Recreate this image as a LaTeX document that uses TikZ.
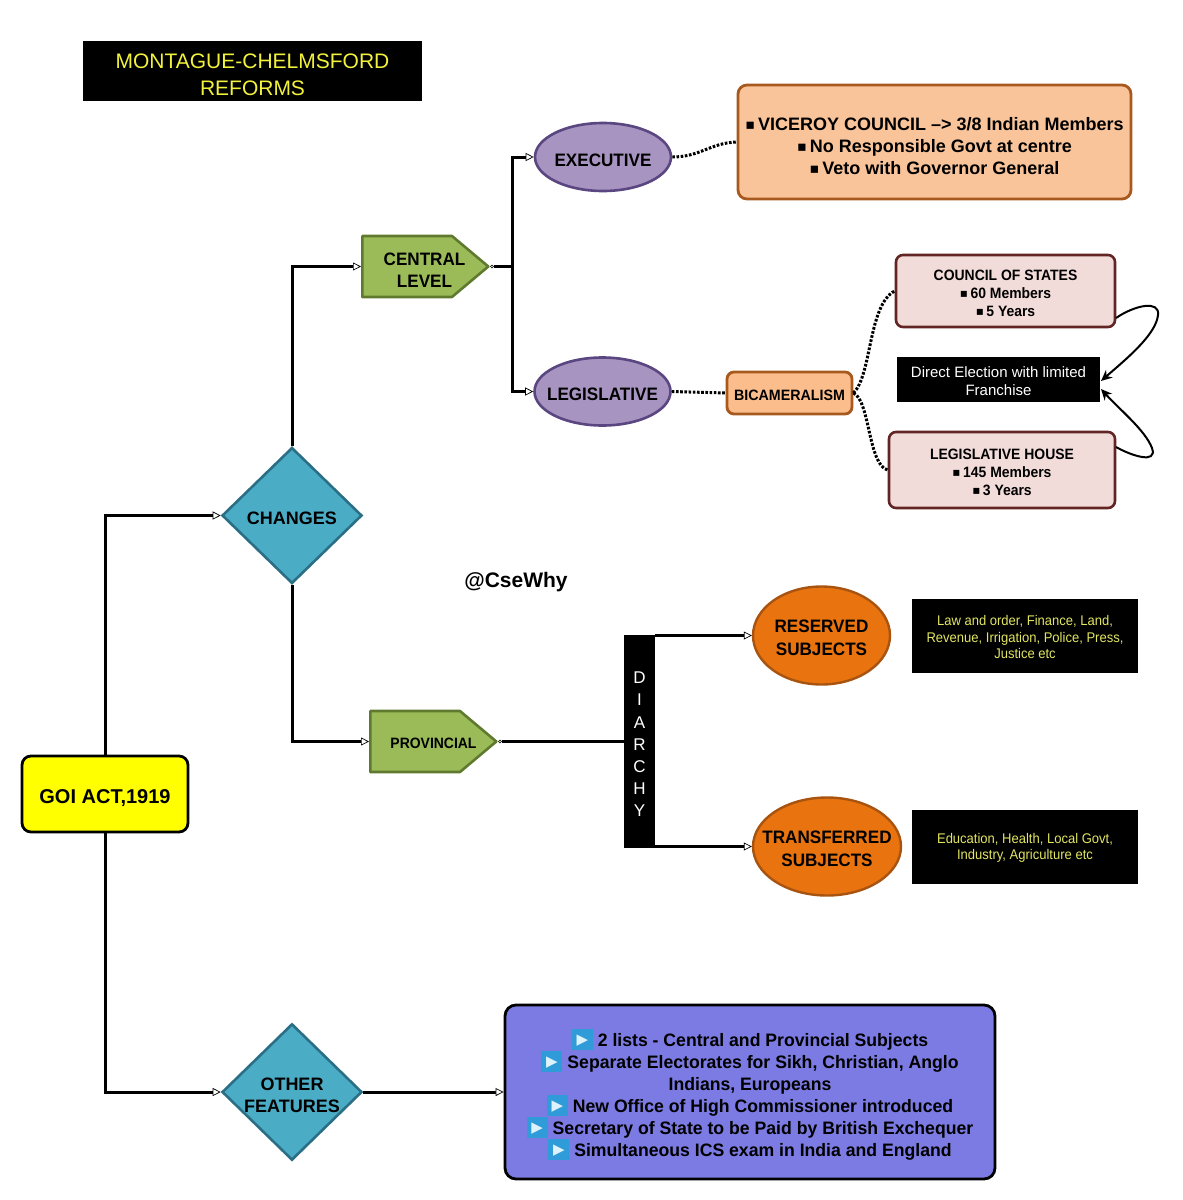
\documentclass[tikz,border=0pt]{standalone}
\usepackage{graphicx}
\usepackage{fontspec}
\setmainfont{Liberation Sans}
\newfontfamily\symfont{DejaVu Sans}
\newfontfamily\capsfont[FakeStretch=0.95]{Liberation Sans}
\newfontfamily\tightfont[FakeStretch=0.93]{Liberation Sans}
\newfontfamily\listfont[FakeStretch=0.98]{Liberation Sans}
\usetikzlibrary{shapes.geometric}
\usetikzlibrary{shapes.symbols}
\usetikzlibrary{arrows.meta}
\definecolor{titleyellow}{HTML}{F2F23C}
\definecolor{paleyellow}{HTML}{E2E662}
\definecolor{goiyellow}{HTML}{FFFF00}
\definecolor{purplefill}{HTML}{A894C0}
\definecolor{purpleline}{HTML}{5A4680}
\definecolor{peachfill}{HTML}{FAC49A}
\definecolor{brownline}{HTML}{A85A1E}
\definecolor{pinkfill}{HTML}{F2DCDA}
\definecolor{maroonline}{HTML}{632523}
\definecolor{greenfill}{HTML}{9BBB59}
\definecolor{greenline}{HTML}{5F7A2E}
\definecolor{tealfill}{HTML}{4BACC6}
\definecolor{tealline}{HTML}{2A6F85}
\definecolor{orangefill}{HTML}{E8730F}
\definecolor{orangeline}{HTML}{A85410}
\definecolor{violetfill}{HTML}{7B7BE3}
\definecolor{iconblue}{HTML}{2F9BD8}
\definecolor{iconpale}{HTML}{DDF2FA}
\newcommand{\fsz}[2]{\fontsize{#1}{#2}\selectfont}
\newcommand{\sqb}{\raisebox{.8pt}{\scalebox{0.8}{\symfont\char"25AA}}\,}
\newcommand{\playicon}{\smash{\raisebox{-4pt}{\fboxsep=0pt\colorbox{iconblue}{\makebox[21pt]{\rule{0pt}{21pt}\raisebox{5.5pt}{\textcolor{iconpale}{\fontsize{15}{15}\symfont\char"25B6}}}}}}\hspace{5pt}}
\tikzset{>={Triangle[fill=white,length=8pt,width=8pt,line width=.7pt]}}
\tikzset{textdown/.style={text height=\dimexpr\ht\pgfnodeparttextbox+#1\relax}}

\begin{document}
\begin{tikzpicture}[x=1pt, y=-1pt]
    \tikzstyle{every node}=[inner sep=0pt, align=center, text=black, font=\bfseries\fsz{18}{22}]
    \tikzstyle{flow}=[black, line width=3pt]
    \tikzstyle{startdot}=[{Circle[fill=white,length=3.5pt,width=3.5pt,line width=.5pt]}-]
    \tikzstyle{dots}=[black, line width=3pt, dash pattern=on 2.6pt off 1.6pt]
    \tikzstyle{loopline}=[black, line width=2pt, -{Stealth[length=11pt,width=10pt]}]
    \tikzstyle{blackbox}=[fill=black, draw=none, rectangle]
    \tikzstyle{tagshape}=[signal, signal to=east, signal from=nowhere, signal pointer angle=80, fill=greenfill, draw=greenline, line width=2.6pt, line join=round, minimum width=126pt, minimum height=61pt, anchor=west]
    \tikzstyle{ovalpurple}=[ellipse, fill=purplefill, draw=purpleline, line width=2.6pt, inner sep=-20pt, minimum width=136pt, minimum height=68pt, font=\capsfont\bfseries\fsz{18}{22}]
    \tikzstyle{ovalorange}=[ellipse, fill=orangefill, draw=orangeline, line width=2.4pt, inner sep=-30pt, minimum width=137pt, minimum height=98pt, font=\capsfont\bfseries\fsz{18}{23}]
    \tikzstyle{decision}=[diamond, fill=tealfill, draw=tealline, line width=2.6pt, minimum width=140pt, minimum height=136pt, textdown=6pt]
    \tikzstyle{pinkbox}=[rectangle, rounded corners=7pt, fill=pinkfill, draw=maroonline, line width=2.6pt, font=\tightfont\bfseries\fsz{15}{18}, textdown=4pt]
    \tikzstyle{subjectbox}=[blackbox, text=paleyellow, font=\tightfont\fsz{14}{16.5}, minimum width=226pt, minimum height=74pt, textdown=2pt]

    \useasboundingbox (0,0) rectangle (1183,1200);

    \node[blackbox, text=titleyellow, font=\fsz{21}{27}, minimum width=339pt, minimum height=60pt, textdown=8pt] (title) at (252.5,71) {MONTAGUE-CHELMSFORD\\REFORMS};

    \node[rectangle, rounded corners=9pt, fill=goiyellow, draw=black, line width=2.8pt, minimum width=166pt, minimum height=76pt, font=\bfseries\fsz{20}{24}, textdown=9pt] (goi) at (105,794) {GOI ACT,1919};

    \node[decision] (changes) at (292,515.5) {CHANGES};
    \node[decision] (other) at (292,1092) {OTHER\\FEATURES};

    \node[tagshape] (central) at (361,266.5) {};
    \node[font=\capsfont\bfseries\fsz{18}{22}, textdown=7pt] (centraltext) at (424.5,266.5) {CENTRAL\\LEVEL};
    \node[tagshape] (provincial) at (369,741.5) {};
    \node[font=\tightfont\bfseries\fsz{15}{18}, textdown=4pt] (provincialtext) at (433.5,741.5) {PROVINCIAL};

    \node[ovalpurple, textdown=6pt] (executive) at (603,157) {EXECUTIVE};
    \node[ovalpurple, textdown=6pt] (legislative) at (602.5,391.5) {LEGISLATIVE};

    \node[rectangle, rounded corners=9pt, fill=peachfill, draw=brownline, line width=2.8pt, minimum width=393pt, minimum height=114pt, textdown=8pt] (viceroy) at (934.5,142) {\sqb VICEROY COUNCIL --> 3/8 Indian Members\\\sqb No Responsible Govt at centre\\\sqb Veto with Governor General};

    \node[rectangle, rounded corners=7pt, fill=peachfill!90!orange, draw=brownline, line width=2.8pt, minimum width=125pt, minimum height=42pt, font=\capsfont\bfseries\fsz{15}{18}, textdown=4pt] (bicam) at (789.5,393) {BICAMERALISM};

    \node[pinkbox, minimum width=219pt, minimum height=72pt] (council) at (1005.5,291) {COUNCIL OF STATES\\\sqb 60 Members\\\sqb 5 Years};
    \node[pinkbox, minimum width=226pt, minimum height=76pt] (house) at (1002,470) {LEGISLATIVE HOUSE\\\sqb 145 Members\\\sqb 3 Years};
    \node[blackbox, text=white, font=\fsz{15}{18}, minimum width=203pt, minimum height=45pt, textdown=4pt] (direct) at (998.5,379.5) {Direct Election with limited\\Franchise};

    \node[font=\bfseries\fsz{21}{25}, textdown=2pt] (handle) at (516,581) {@CseWhy};

    \node[blackbox, text=white, font=\fsz{17}{22.2}, minimum width=31pt, minimum height=213pt, textdown=6pt] (diarchy) at (639.5,741.5) {D\\I\\A\\R\\C\\H\\Y};

    \node[ovalorange, textdown=5pt] (reserved) at (821.5,635.5) {RESERVED\\SUBJECTS};
    \node[ovalorange, minimum width=148pt, textdown=5pt] (transferred) at (827,846.5) {TRANSFERRED\\SUBJECTS};

    \node[subjectbox] (lawbox) at (1025,636) {Law and order, Finance, Land,\\Revenue, Irrigation, Police, Press,\\Justice etc};
    \node[subjectbox] (edubox) at (1025,847) {Education, Health, Local Govt,\\Industry, Agriculture etc};

    \node[rectangle, rounded corners=11pt, fill=violetfill, draw=black, line width=2.8pt, minimum width=490pt, minimum height=174pt, font=\listfont\bfseries\fsz{18}{22}, textdown=9pt] (features) at (750,1092) {\playicon 2 lists - Central and Provincial Subjects\\\playicon Separate Electorates for Sikh, Christian, Anglo\\Indians, Europeans\\\playicon New Office of High Commissioner introduced\\\playicon Secretary of State to be Paid by British Exchequer\\\playicon Simultaneous ICS exam in India and England};

    \draw[flow, startdot, ->] (goi.north) |- (changes.west);
    \draw[flow, startdot, ->] (goi.south) |- (other.west);
    \draw[flow, startdot, ->] (changes.north) |- (central.west);
    \draw[flow, startdot, ->] (changes.south) |- (provincial.west);
    \draw[flow, startdot, ->] (other.east) -- (features.west);

    \coordinate (split) at (512,266.5);
    \draw[flow, startdot] (central.east) -- (split);
    \draw[flow, ->] (split) |- (executive.west);
    \draw[flow, ->] (split) |- (legislative.west);

    \draw[flow, startdot] (provincial.east) -- (diarchy.west);
    \draw[flow, ->] (diarchy.east |- reserved.west) -- (reserved.west);
    \draw[flow, ->] (diarchy.east |- transferred.west) -- (transferred.west);

    \draw[dots] (executive.east) .. controls (700,157) and (710,143) .. (viceroy.west);
    \draw[dots] (legislative.east) -- (bicam.west);
    \draw[dots] (bicam.east) .. controls (872,375) and (868,305) .. (council.west);
    \draw[dots] (bicam.east) .. controls (870,400) and (868,465) .. (house.west);

    \coordinate (councilout) at (1116,318);
    \coordinate (houseout) at (1116,447);
    \coordinate (directtop) at (1101,381);
    \coordinate (directlow) at (1101,389);
    \draw[loopline] (councilout) .. controls (1135,305) and (1160,300) .. (1158,315) .. controls (1156,335) and (1125,360) .. (directtop);
    \draw[loopline] (houseout) .. controls (1130,455) and (1158,465) .. (1152,448) .. controls (1145,430) and (1120,410) .. (directlow);

\end{tikzpicture}
\end{document}
